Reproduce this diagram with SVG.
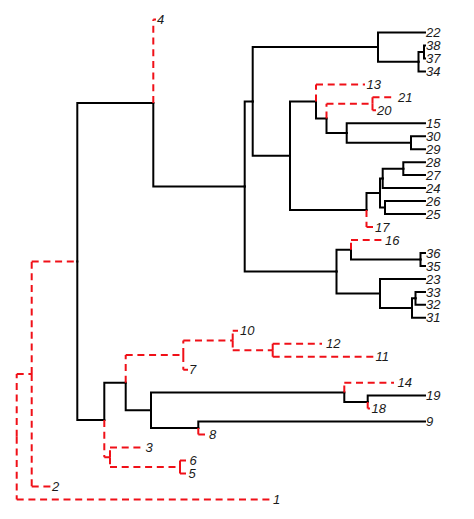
<svg xmlns="http://www.w3.org/2000/svg" width="474" height="519" viewBox="0 0 474 519">
<style>
.b{fill:none;stroke:#000;stroke-width:2;stroke-linecap:square;stroke-linejoin:miter}
.r{fill:none;stroke:#f01018;stroke-width:2;stroke-dasharray:7 4.7;stroke-linecap:butt}
text{font-family:"Liberation Sans",Arial,sans-serif;font-style:italic;font-size:13px;fill:#1a1a1a}
</style>
<rect width="474" height="519" fill="#fff"/>
<g id="connectors">
<path class="b" d="M77.3 261.5V103H153.3"/>
<path class="b" d="M77.3 261.5V419.95H104.3"/>
<path class="b" d="M153.3 103V186.5H244.7"/>
<path class="b" d="M244.7 186.5V101.4H252.7"/>
<path class="b" d="M244.7 186.5V271.6H336.5"/>
<path class="b" d="M252.7 101.4V47.1H378"/>
<path class="b" d="M252.7 101.4V155.7H290"/>
<path class="b" d="M378 47.1V32.5H425"/>
<path class="b" d="M378 47.1V61.65H418.5"/>
<path class="b" d="M418.5 61.65V51.9H424"/>
<path class="b" d="M418.5 61.65V71.4H425"/>
<path class="b" d="M424 51.9V45.4H425"/>
<path class="b" d="M424 51.9V58.4H425"/>
<path class="b" d="M290 155.7V101.4H316"/>
<path class="b" d="M290 155.7V210H366.5"/>
<path class="b" d="M316 101.4V118.4H326.5"/>
<path class="b" d="M326.5 118.4V133H346.7"/>
<path class="b" d="M346.7 133V123.3H425"/>
<path class="b" d="M346.7 133V142.7H411"/>
<path class="b" d="M411 142.7V136.2H425"/>
<path class="b" d="M411 142.7V149.2H425"/>
<path class="b" d="M366.5 210V193H380"/>
<path class="b" d="M380 193V178.4H382.7"/>
<path class="b" d="M380 193V207.6H385"/>
<path class="b" d="M382.7 178.4V168.65H403.3"/>
<path class="b" d="M382.7 178.4V188.1H425"/>
<path class="b" d="M403.3 168.65V162.2H425"/>
<path class="b" d="M403.3 168.65V175.1H425"/>
<path class="b" d="M385 207.6V201.1H425"/>
<path class="b" d="M385 207.6V214.1H425"/>
<path class="b" d="M336.5 271.6V249.7H351"/>
<path class="b" d="M336.5 271.6V293.5H380"/>
<path class="b" d="M351 249.7V259.45H420.5"/>
<path class="b" d="M420.5 259.45V253H425"/>
<path class="b" d="M420.5 259.45V265.9H425"/>
<path class="b" d="M380 293.5V278.9H425"/>
<path class="b" d="M380 293.5V308.1H412"/>
<path class="b" d="M412 308.1V298.35H415.5"/>
<path class="b" d="M412 308.1V317.8H425"/>
<path class="b" d="M415.5 298.35V291.9H425"/>
<path class="b" d="M415.5 298.35V304.8H425"/>
<path class="b" d="M104.3 419.95V382.65H125.7"/>
<path class="b" d="M125.7 382.65V410.2H151"/>
<path class="b" d="M151 410.2V392.4H344.3"/>
<path class="b" d="M151 410.2V428.05H198.3"/>
<path class="b" d="M344.3 392.4V402.1H367.7"/>
<path class="b" d="M367.7 402.1V395.6H425"/>
<path class="b" d="M198.3 428.05V421.6H425"/>
<path class="r" d="M16.7 436.7V373.95M16.7 373.95H31.7"/>
<path class="r" d="M16.7 436.7V499.4M16.7 499.4H272"/>
<path class="r" d="M31.7 373.95V261.5M31.7 261.5H77.3"/>
<path class="r" d="M31.7 373.95V486.4M31.7 486.4H51"/>
<path class="r" d="M153.3 103V19.5M153.3 19.5H156"/>
<path class="r" d="M316 101.4V84.4M316 84.4H365"/>
<path class="r" d="M326.5 118.4V103.8M326.5 103.8H372.5"/>
<path class="r" d="M372.5 103.8V97.3M372.5 97.3H395"/>
<path class="r" d="M372.5 103.8V110.3M372.5 110.3H376"/>
<path class="r" d="M366.5 210V227M366.5 227H373"/>
<path class="r" d="M351 249.7V240M351 240H383.5"/>
<path class="r" d="M104.3 419.95V457.25M104.3 457.25H110"/>
<path class="r" d="M110 457.25V447.5M110 447.5H144"/>
<path class="r" d="M110 457.25V467M110 467H180"/>
<path class="r" d="M180 467V460.5M180 460.5H186"/>
<path class="r" d="M180 467V473.5M180 473.5H186"/>
<path class="r" d="M125.7 382.65V355.1M125.7 355.1H183.3"/>
<path class="r" d="M183.3 355.1V340.5M183.3 340.5H232.7"/>
<path class="r" d="M183.3 355.1V369.7M183.3 369.7H188"/>
<path class="r" d="M232.7 340.5V330.8M232.7 330.8H238"/>
<path class="r" d="M232.7 340.5V350.25M232.7 350.25H272.7"/>
<path class="r" d="M272.7 350.25V343.8M272.7 343.8H322"/>
<path class="r" d="M272.7 350.25V356.7M272.7 356.7H373.5"/>
<path class="r" d="M344.3 392.4V382.7M344.3 382.7H394"/>
<path class="r" d="M367.7 402.1V408.6M367.7 408.6H370"/>
<path class="r" d="M198.3 428.05V434.5M198.3 434.5H205"/>
</g>
<g id="tip4"><text x="157" y="24.1">4</text></g>
<g id="tip22"><text x="426" y="37.1">22</text></g>
<g id="tip38"><text x="426" y="50">38</text></g>
<g id="tip37"><text x="426" y="63">37</text></g>
<g id="tip34"><text x="426" y="76">34</text></g>
<g id="tip13"><text x="366.5" y="89">13</text></g>
<g id="tip21"><text x="398" y="101.9">21</text></g>
<g id="tip20"><text x="377" y="114.9">20</text></g>
<g id="tip15"><text x="426" y="127.9">15</text></g>
<g id="tip30"><text x="426" y="140.8">30</text></g>
<g id="tip29"><text x="426" y="153.8">29</text></g>
<g id="tip28"><text x="426" y="166.8">28</text></g>
<g id="tip27"><text x="426" y="179.7">27</text></g>
<g id="tip24"><text x="426" y="192.7">24</text></g>
<g id="tip26"><text x="426" y="205.7">26</text></g>
<g id="tip25"><text x="426" y="218.7">25</text></g>
<g id="tip17"><text x="375" y="231.6">17</text></g>
<g id="tip16"><text x="385" y="244.6">16</text></g>
<g id="tip36"><text x="426" y="257.6">36</text></g>
<g id="tip35"><text x="426" y="270.5">35</text></g>
<g id="tip23"><text x="426" y="283.5">23</text></g>
<g id="tip33"><text x="426" y="296.5">33</text></g>
<g id="tip32"><text x="426" y="309.4">32</text></g>
<g id="tip31"><text x="426" y="322.4">31</text></g>
<g id="tip10"><text x="240" y="335.4">10</text></g>
<g id="tip12"><text x="326" y="348.4">12</text></g>
<g id="tip11"><text x="375.5" y="361.3">11</text></g>
<g id="tip7"><text x="189" y="374.3">7</text></g>
<g id="tip14"><text x="397.5" y="387.3">14</text></g>
<g id="tip19"><text x="426" y="400.2">19</text></g>
<g id="tip18"><text x="371.5" y="413.2">18</text></g>
<g id="tip9"><text x="426" y="426.2">9</text></g>
<g id="tip8"><text x="209" y="439.1">8</text></g>
<g id="tip3"><text x="145.5" y="452.1">3</text></g>
<g id="tip6"><text x="189.5" y="465.1">6</text></g>
<g id="tip5"><text x="188.5" y="478.1">5</text></g>
<g id="tip2"><text x="52" y="491">2</text></g>
<g id="tip1"><text x="273" y="504">1</text></g>
</svg>
